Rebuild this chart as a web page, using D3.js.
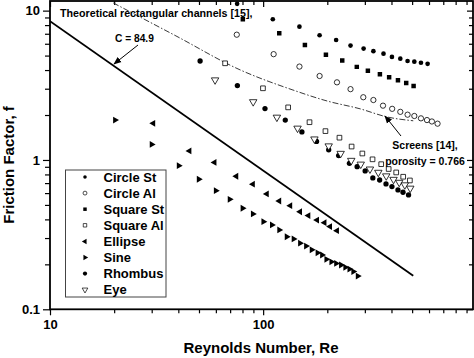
<!DOCTYPE html>
<html><head><meta charset="utf-8">
<script src="https://cdn.jsdelivr.net/npm/d3@7"></script>
<style>
body{margin:0;background:#fff}
svg{display:block}
text{font-family:"Liberation Sans",Arial,Helvetica,sans-serif;font-weight:bold;fill:#000}
</style>
</head><body>
<svg id="chart" width="474" height="358"></svg>
<script>
// ---------- data ----------
const seriesNames = ["Circle St","Circle Al","Square St","Square Al","Ellipse","Sine","Rhombus","Eye"];

const circleStRe = [75.5,111,148,184,220,257,296,329,367,402,440,476,512,550,591];
const circleStF  = [11.1,8.76,7.81,6.84,6.36,5.83,5.57,5.35,5.15,4.90,4.77,4.60,4.55,4.48,4.40];

const circleAlRe = [75.2,112,148,184,222,257,295,329,365,403,440,476,512,550,587,619,658];
const circleAlF  = [6.90,5.11,4.22,3.65,3.31,2.98,2.63,2.52,2.31,2.20,2.10,2.01,1.97,1.90,1.85,1.81,1.75];

const squareStRe = [80.3,119,157,197,235,275,310,353,390,429,469,508];
const squareStF  = [8.76,7.06,5.89,5.07,4.63,4.20,3.96,3.75,3.58,3.42,3.28,3.13];

const squareAlRe = [66.3,99.8,131,165,196,228,260,292,326,358,388,421,454,488];
const squareAlF  = [4.44,3.02,2.25,1.79,1.56,1.41,1.23,1.105,1.01,0.937,0.87,0.825,0.772,0.729];

const ellipseRe = [30.5,45.1,59.1,74.8,89.5,104,119,134,149,163,179,194,206,222];
const ellipseF  = [1.76,1.149,0.962,0.778,0.688,0.592,0.531,0.494,0.450,0.424,0.396,0.380,0.358,0.336];

const sineRe = [20.2,30.0,40.2,49.9,60.0,69.7,80.1,89.5,100.3,110,119,129,139,149,159,169,180,189,198,209,220,232,243,254,265,278];
const sineF  = [1.85,1.27,0.915,0.743,0.623,0.545,0.475,0.435,0.386,0.367,0.340,0.306,0.296,0.277,0.265,0.250,0.239,0.231,0.216,0.208,0.203,0.198,0.191,0.186,0.179,0.167];

const rhombusRe = [50.6,75.7,102,127,152,178,203,226,254,276,301,327,352,377,402,429,453,481];
const rhombusF  = [4.60,3.15,2.21,1.85,1.54,1.33,1.17,1.07,0.95,0.902,0.844,0.758,0.734,0.691,0.663,0.630,0.608,0.583];

const eyeRe = [59.5,89.8,116,145,174,203,231,259,287,317,347,378,409,435,462,490];
const eyeF  = [3.43,2.45,1.93,1.63,1.38,1.24,1.105,0.992,0.936,0.868,0.825,0.781,0.740,0.707,0.680,0.646];

// Line C = 84.9 (f = C/Re), endpoints
const theoryRe = [10, 506];
const theoryF  = [8.49, 0.168];

// Screens [14] curve (dash-dot)
const screensRe = [19.8,39.0,78,138,200,285,382,506];
const screensF  = [11.26,6.77,4.01,2.94,2.48,2.20,1.94,1.83];

const xTickLabels = [10, 100];
const yTickLabels = [0.1, 1, 10];

// ---------- chart ----------
const svg = d3.select("#chart");
const W = 474, H = 358;
const x = d3.scaleLog().domain([10, 965]).range([50, 473]);
const y = d3.scaleLog().domain([0.1, 11.6]).range([309.3, 1]);
const [x0, x1] = x.range();
const [y0, y1] = y.range();

const defs = svg.append("defs");
defs.append("clipPath").attr("id","clip").append("rect")
  .attr("x", x0).attr("y", y1).attr("width", x1 - x0).attr("height", y0 - y1);
defs.append("marker").attr("id","arrow").attr("viewBox","0 0 10 10")
  .attr("refX",9).attr("refY",5).attr("markerWidth",8).attr("markerHeight",8)
  .attr("markerUnits","userSpaceOnUse").attr("orient","auto")
  .append("path").attr("d","M0,1 L10,5 L0,9 Z").attr("fill","#000");

function allTicks(lo, hi){
  const t=[]; for(let d=lo; d<hi*1.0001; d*=10){ for(let k=1;k<10;k++){ const v=+(k*d).toPrecision(6); if(v>=x.domain()[0]-1e-9 || true) t.push(v);} } return t;
}
const xTicks = allTicks(10, 100).filter(v => v >= 10 && v <= 965);
const yTicks = allTicks(0.1, 10).filter(v => v >= 0.1 && v <= 11.6);
const isMajor = v => Math.abs(Math.log10(v) - Math.round(Math.log10(v))) < 1e-6;

function styleAxis(g, majorLen, minorLen, dir){
  g.select(".domain").remove();
  g.selectAll(".tick line").attr("stroke","#000").attr("stroke-width",1.2)
    .each(function(d){
      const len = isMajor(d) ? majorLen : minorLen;
      const l = d3.select(this);
      if(dir==="x") l.attr("y2", len); else l.attr("x2", len);
    });
  g.selectAll(".tick text").attr("font-size", 13).attr("fill","#000")
   .style("font-family",'"Liberation Sans",Arial,sans-serif').style("font-weight","bold");
}

// bottom
const gx = svg.append("g").attr("transform",`translate(0,${y0})`)
  .call(d3.axisBottom(x).tickValues(xTicks).tickSize(4).tickPadding(4)
    .tickFormat(v => xTickLabels.includes(v) ? String(v) : ""));
styleAxis(gx, 6, 4, "x");
gx.selectAll(".tick text").attr("y", 10);
// top (inward)
const gxt = svg.append("g").attr("transform",`translate(0,${y1})`)
  .call(d3.axisTop(x).tickValues(xTicks).tickFormat(""));
styleAxis(gxt, 6, 4, "x");
// left
const gy = svg.append("g").attr("transform",`translate(${x0},0)`)
  .call(d3.axisLeft(y).tickValues(yTicks).tickSize(5).tickPadding(4)
    .tickFormat(v => yTickLabels.includes(v) ? String(v) : ""));
styleAxis(gy, -7, -5, "y");
gy.selectAll(".tick text").attr("x", -10);
// right (inward)
const gyr = svg.append("g").attr("transform",`translate(${x1},0)`)
  .call(d3.axisRight(y).tickValues(yTicks).tickFormat(""));
styleAxis(gyr, -6, -4, "y");

// frame
svg.append("rect").attr("x",x0).attr("y",y1).attr("width",x1-x0).attr("height",y0-y1)
  .attr("fill","none").attr("stroke","#000").attr("stroke-width",1.8);

const plot = svg.append("g").attr("clip-path","url(#clip)");

// theoretical line
plot.append("path")
  .datum(d3.zip(theoryRe, theoryF))
  .attr("d", d3.line().x(d=>x(d[0])).y(d=>y(d[1])))
  .attr("fill","none").attr("stroke","#000").attr("stroke-width",1.8);

// screens dash-dot curve
plot.append("path")
  .datum(d3.zip(screensRe, screensF))
  .attr("d", d3.line().x(d=>x(d[0])).y(d=>y(d[1])).curve(d3.curveMonotoneX))
  .attr("fill","none").attr("stroke","#222").attr("stroke-width",0.9)
  .attr("stroke-dasharray","6,2,1.5,2");

// marker definitions
const sym = {
  circleFilled: (s) => ({type:d3.symbolCircle, size:s, rot:0, fill:"#000"}),
};
const series = [
  {name:"Circle St", re:circleStRe, f:circleStF, type:d3.symbolCircle, size:17, rot:0, filled:true, lsize:10},
  {name:"Circle Al", re:circleAlRe, f:circleAlF, type:d3.symbolCircle, size:22, rot:0, filled:false, lsize:12},
  {name:"Square St", re:squareStRe, f:squareStF, type:d3.symbolSquare, size:20, rot:0, filled:true, lsize:12},
  {name:"Square Al", re:squareAlRe, f:squareAlF, type:d3.symbolSquare, size:22, rot:0, filled:false, lsize:12},
  {name:"Ellipse",   re:ellipseRe,  f:ellipseF,  type:d3.symbolTriangle, size:20, rot:-90, filled:true, lsize:13},
  {name:"Sine",      re:sineRe,     f:sineF,     type:d3.symbolTriangle, size:20, rot:90,  filled:true, lsize:13},
  {name:"Rhombus",   re:rhombusRe,  f:rhombusF,  type:d3.symbolCircle, size:22, rot:0, filled:true, lsize:14},
  {name:"Eye",       re:eyeRe,      f:eyeF,      type:d3.symbolTriangle, size:24, rot:180, filled:false, lsize:14}
];

series.forEach(s => {
  plot.append("g").selectAll("path")
    .data(d3.zip(s.re, s.f))
    .join("path")
    .attr("d", d3.symbol().type(s.type).size(s.size))
    .attr("transform", d => `translate(${x(d[0])},${y(d[1])}) rotate(${s.rot})`)
    .attr("fill", s.filled ? "#000" : "#fff")
    .attr("stroke", s.filled ? "none" : "#000")
    .attr("stroke-width", 0.8);
});

// legend
const lg = svg.append("g");
lg.append("rect").attr("x",65.5).attr("y",170).attr("width",100.5).attr("height",127)
  .attr("fill","#fff").attr("stroke","#444").attr("stroke-width",1);
series.forEach((s,i) => {
  const cy = 177 + i*16.1;
  lg.append("path")
    .attr("d", d3.symbol().type(s.type).size(s.lsize))
    .attr("transform", `translate(85,${cy}) rotate(${s.rot})`)
    .attr("fill", s.filled ? "#000" : "#fff")
    .attr("stroke", s.filled ? "none" : "#000").attr("stroke-width",0.7);
  lg.append("text").attr("x",103.5).attr("y",cy+4.5).attr("font-size",13).text(s.name);
});

// annotations
svg.append("text").attr("x",60).attr("y",16.5).attr("font-size",10.7)
  .text("Theoretical rectangular channels [15],");
svg.append("text").attr("x",115).attr("y",41.5).attr("font-size",10.2).text("C = 84.9");
svg.append("line").attr("x1",138).attr("y1",45).attr("x2",114).attr("y2",64)
  .attr("stroke","#000").attr("stroke-width",1).attr("marker-end","url(#arrow)");
svg.append("text").attr("x",425).attr("y",149).attr("font-size",10.5)
  .attr("text-anchor","middle").text("Screens [14],");
svg.append("text").attr("x",425).attr("y",164.5).attr("font-size",10.5)
  .attr("text-anchor","middle").text("porosity = 0.766");
svg.append("line").attr("x1",401).attr("y1",136).attr("x2",385).attr("y2",116)
  .attr("stroke","#000").attr("stroke-width",1).attr("marker-end","url(#arrow)");

// axis titles
svg.append("text").attr("x",261).attr("y",353).attr("font-size",15)
  .attr("text-anchor","middle").text("Reynolds Number, Re");
svg.append("text").attr("transform","translate(14,165) rotate(-90)").attr("font-size",15)
  .attr("text-anchor","middle").text("Friction Factor, f");
</script>
</body></html>
